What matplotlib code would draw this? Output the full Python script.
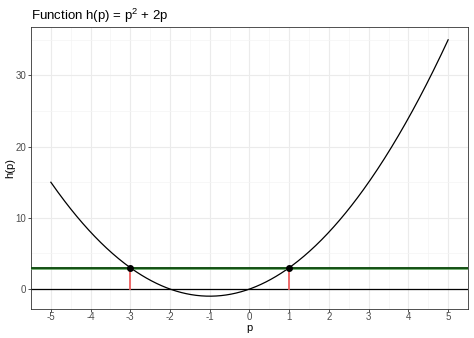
import numpy as np
import matplotlib
matplotlib.use("Agg")
import matplotlib.pyplot as plt

plt.rcParams['font.family'] = ['Liberation Sans', 'DejaVu Sans']
plt.rcParams['mathtext.fontset'] = 'custom'
plt.rcParams['mathtext.rm'] = 'Liberation Sans'
plt.rcParams['mathtext.it'] = 'Liberation Sans'
plt.rcParams['axes.unicode_minus'] = False

# function h(p) = a*p^2 + b*p, drawn on p in [-5, 5]
coef_a = 1
coef_b = 2
p_range = [-5, 5]
level = 3
solutions = [-3, 1]
x_ticks = [-5, -4, -3, -2, -1, 0, 1, 2, 3, 4, 5]
y_ticks = [0, 10, 20, 30]

p = np.linspace(p_range[0], p_range[1], 400)
h = coef_a * p**2 + coef_b * p

fig = plt.figure(figsize=(4.74, 3.38), dpi=100)
ax = fig.add_axes([31/474, 1-309/338, (468-31)/474, (309-27)/338])

ax.set_xlim(-5.5, 5.5)
ax.set_ylim(-2.8, 36.8)
ax.set_xticks(x_ticks)
ax.set_yticks(y_ticks)
ax.set_xticks(np.arange(-5.5, 5.6, 1.0), minor=True)
ax.set_yticks([5, 15, 25, 35], minor=True)
ax.grid(which='major', color='#ebebeb', linewidth=0.8)
ax.grid(which='minor', color='#f4f4f4', linewidth=0.5)
ax.set_axisbelow(True)
ax.tick_params(which='minor', length=0)
ax.tick_params(which='major', length=2.2, width=0.6, color='#333333',
               labelsize=7, labelcolor='#4d4d4d')
ax.tick_params(axis='x', which='major', pad=0.2)
ax.tick_params(axis='y', which='major', pad=1.2)
for s in ax.spines.values():
    s.set_color('#333333')
    s.set_linewidth(0.6)

ax.axhline(0, color='black', linewidth=0.9, zorder=2)
ax.plot(p, h, color='black', linewidth=0.9, zorder=3)
ax.axhline(level, color='#5aa05a', linewidth=1.9, zorder=3)
ax.axhline(level, color='#003a00', linewidth=1.1, zorder=3)
for s in solutions:
    ax.plot([s, s], [0, level], color='#ee6060', linewidth=1.3, zorder=2.5)
ax.scatter(solutions, [level]*len(solutions), s=16, color='black', zorder=5)

fig.text((31+468)/2/474, 1-331/338, 'p', fontsize=8, ha='center', va='baseline')
fig.text(10/474, 1-168/338, 'h(p)', fontsize=8, ha='center', va='center',
         rotation=90)
fig.text(31/474, 1-20/338, r'Function h(p) = p$^2$ + 2p', fontsize=9.5,
         ha='left', va='baseline')

fig.savefig('out.png', dpi=100)
